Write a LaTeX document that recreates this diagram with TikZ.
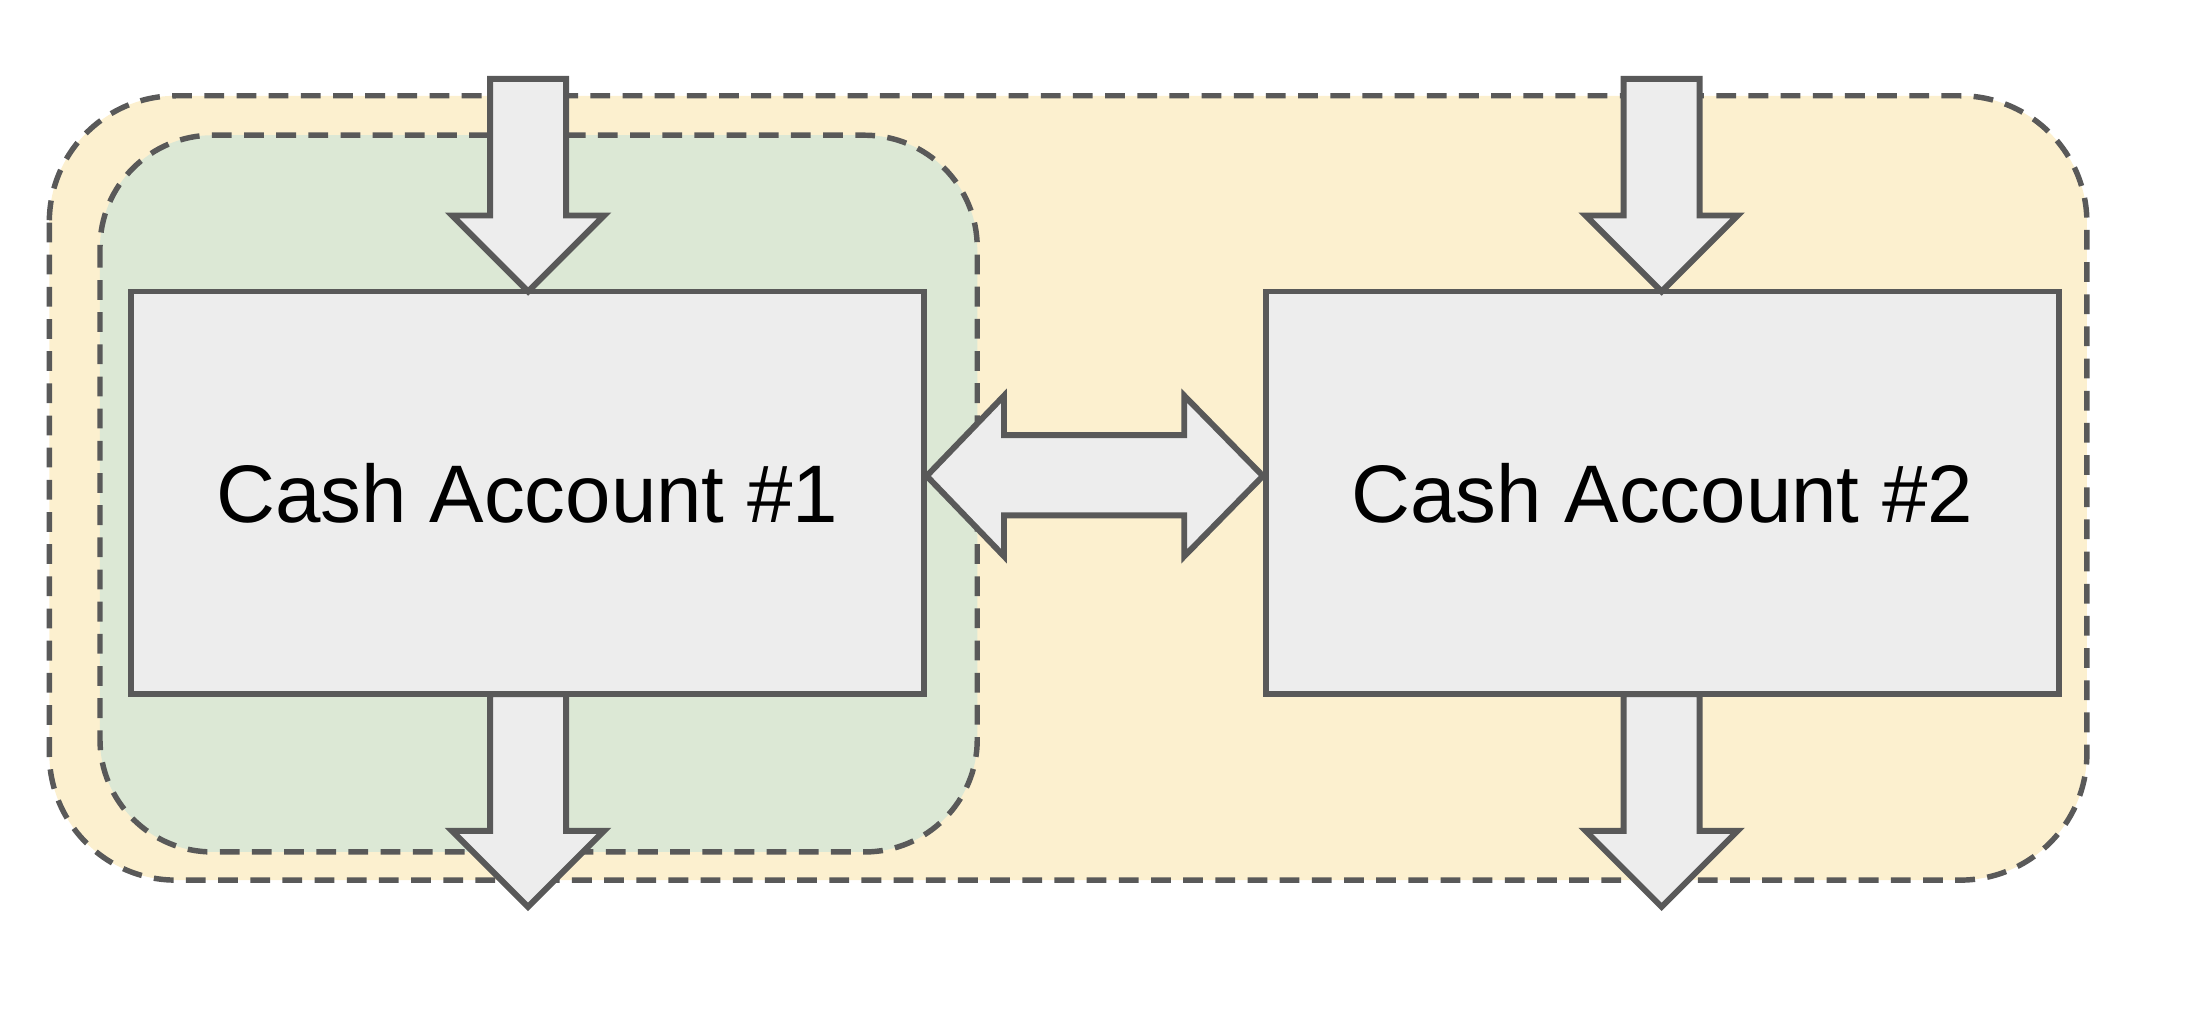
\documentclass[tikz,border=0pt]{standalone}
\usepackage{fontspec}
\setmainfont{Liberation Sans}
\definecolor{yel}{HTML}{FCF0CF}
\definecolor{grn}{HTML}{DCE8D5}
\definecolor{boxf}{HTML}{EDEDED}
\definecolor{edge}{HTML}{595959}
\begin{document}
\begin{tikzpicture}[x=0.1mm,y=-0.1mm,
  grp/.style={draw=edge,line width=1.1pt,dash pattern=on 4pt off 2.5pt},
  box/.style={draw=edge,fill=boxf,line width=1.2pt},
  blk/.style={draw=edge,fill=boxf,line width=1.2pt,line join=miter}]
\useasboundingbox (0,0) rectangle (1568,717);
\draw[grp,fill=yel,rounded corners=9mm] (35,68) rectangle (1482,625);
\draw[grp,fill=grn,rounded corners=8mm] (71,96) rectangle (694,605);
\node[box,minimum width=563*0.1mm,minimum height=286*0.1mm,font=\fontsize{16.5}{20}\selectfont] (a1) at (374.5,350) {Cash Account \#1};
\node[box,minimum width=563*0.1mm,minimum height=286*0.1mm,font=\fontsize{16.5}{20}\selectfont] (a2) at (1180.5,350) {Cash Account \#2};
% down arrows
\foreach \c/\t in {375/56,1180/56,375/493,1180/493}{
  \draw[blk] (\c-27,\t) -- (\c+27,\t) -- (\c+27,\t+97) -- (\c+54,\t+97) -- (\c,\t+151) -- (\c-54,\t+97) -- (\c-27,\t+97) -- cycle;
}
% double arrow
\draw[blk] (a1.east |- 0,338) -- (713,281) -- (713,309) -- (841,309) -- (841,281) -- (a2.west |- 0,338) -- (841,395) -- (841,366) -- (713,366) -- (713,395) -- cycle;
\end{tikzpicture}
\end{document}
